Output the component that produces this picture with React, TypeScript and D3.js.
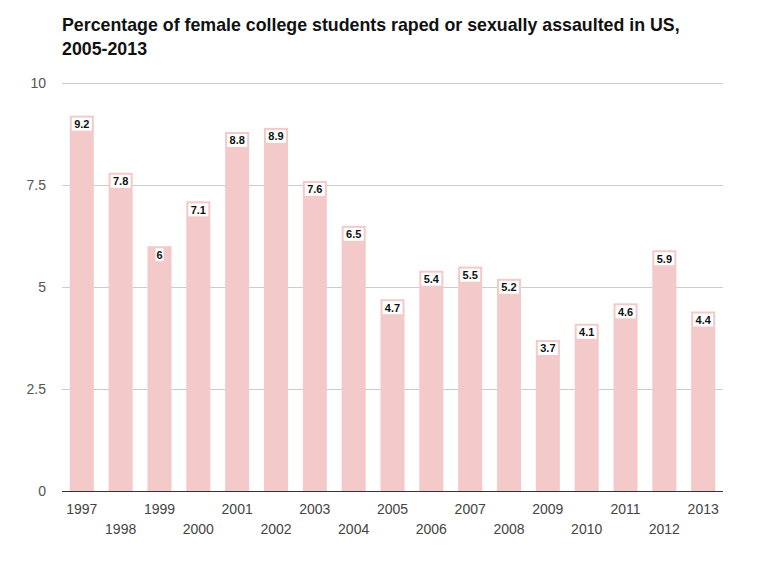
import React, { useEffect, useRef } from 'react';
import * as d3 from 'd3';

const years = ['1997', '1998', '1999', '2000', '2001', '2002', '2003', '2004', '2005', '2006', '2007', '2008', '2009', '2010', '2011', '2012', '2013'];
const values = [9.2, 7.8, 6, 7.1, 8.8, 8.9, 7.6, 6.5, 4.7, 5.4, 5.5, 5.2, 3.7, 4.1, 4.6, 5.9, 4.4];
const yTicks = [0, 2.5, 5, 7.5, 10];
const titleLines = ['Percentage of female college students raped or sexually assaulted in US,', '2005-2013'];

const App = () => {
  const svgRef = useRef<SVGSVGElement>(null);
  const width = 778;
  const height = 565;

  useEffect(() => {
    const svg = d3.select(svgRef.current);
    svg.selectAll('*').remove();

    const margin = { top: 83, right: 55, bottom: 74, left: 62 };
    const innerWidth = width - margin.left - margin.right;
    const innerHeight = height - margin.top - margin.bottom;

    svg.append('rect').attr('width', width).attr('height', height).attr('fill', '#fff');

    // Title
    const title = svg.append('text')
      .attr('x', 62)
      .attr('y', 31)
      .style('font-family', 'Arial, "Liberation Sans", sans-serif')
      .style('font-size', '17.8px')
      .style('font-weight', 'bold')
      .attr('fill', '#111');
    titleLines.forEach((line, i) => {
      title.append('tspan').attr('x', 62).attr('dy', i === 0 ? 0 : 24).text(line);
    });

    const g = svg.append('g')
      .attr('transform', `translate(${margin.left},${margin.top})`);

    const x = d3.scaleBand<string>()
      .domain(years)
      .range([0, innerWidth])
      .paddingInner(0.38)
      .paddingOuter(0.2);

    const y = d3.scaleLinear()
      .domain([0, 10])
      .range([innerHeight, 0]);

    // Grid
    g.append('g')
      .selectAll('line')
      .data(yTicks.filter(t => t > 0))
      .enter()
      .append('line')
      .attr('x1', 0)
      .attr('x2', innerWidth)
      .attr('y1', d => y(d) + 0.5)
      .attr('y2', d => y(d) + 0.5)
      .attr('stroke', '#cccccc');

    // Y labels
    g.append('g')
      .selectAll('text')
      .data(yTicks)
      .enter()
      .append('text')
      .attr('x', -16)
      .attr('y', d => y(d))
      .attr('dy', '0.35em')
      .attr('text-anchor', 'end')
      .style('font-family', 'Arial, "Liberation Sans", sans-serif')
      .style('font-size', '14px')
      .attr('fill', '#555')
      .text(d => d3.format('')(d));

    // Bars
    g.selectAll('rect.bar')
      .data(values)
      .enter()
      .append('rect')
      .attr('class', 'bar')
      .attr('x', (d, i) => x(years[i])!)
      .attr('y', d => y(d))
      .attr('width', x.bandwidth())
      .attr('height', d => innerHeight - y(d))
      .attr('fill', '#f4c9c9');

    // Baseline
    g.append('line')
      .attr('x1', 0)
      .attr('x2', innerWidth)
      .attr('y1', innerHeight + 0.5)
      .attr('y2', innerHeight + 0.5)
      .attr('stroke', '#333');

    // Value labels
    const labels = g.selectAll('g.label')
      .data(values)
      .enter()
      .append('g')
      .attr('class', 'label')
      .attr('transform', (d, i) => `translate(${x(years[i])! + x.bandwidth() / 2},${y(d) + 8.5})`);

    labels.each(function (d) {
      const lg = d3.select(this);
      const text = String(d);
      const w = text.length * 6 + 2;
      lg.append('rect')
        .attr('x', -w / 2)
        .attr('y', -6.5)
        .attr('width', w)
        .attr('height', 13)
        .attr('fill', '#fff');
      lg.append('text')
        .attr('text-anchor', 'middle')
        .attr('dy', '0.35em')
        .style('font-family', 'Arial, "Liberation Sans", sans-serif')
        .style('font-size', '11px')
        .style('font-weight', 'bold')
        .attr('fill', '#111')
        .text(text);
    });

    // X labels, staggered
    g.append('g')
      .selectAll('text')
      .data(years)
      .enter()
      .append('text')
      .attr('x', d => x(d)! + x.bandwidth() / 2)
      .attr('y', (d, i) => innerHeight + (i % 2 === 0 ? 23 : 43))
      .attr('text-anchor', 'middle')
      .style('font-family', 'Arial, "Liberation Sans", sans-serif')
      .style('font-size', '14px')
      .attr('fill', '#444')
      .text(d => d);
  }, []);

  return (
    <svg ref={svgRef} width={width} height={height} style={{ display: 'block', position: 'absolute', left: 0, top: 0 }}></svg>
  );
};

export default App;
